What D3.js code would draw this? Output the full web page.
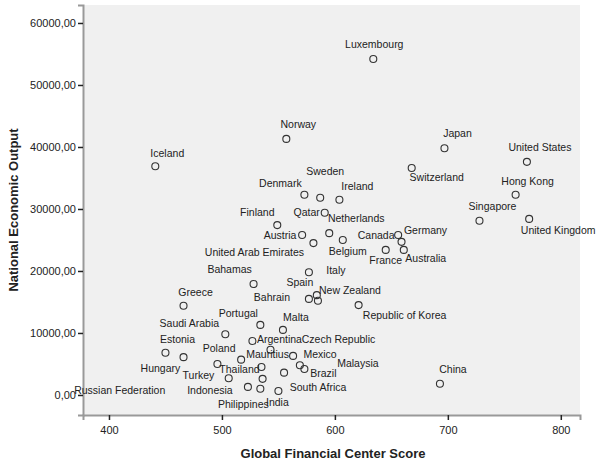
<!DOCTYPE html>
<html>
<head>
<script src="https://cdnjs.cloudflare.com/ajax/libs/d3/7.8.5/d3.min.js"></script>
<style>
  body { margin: 0; background: #fff; }
  text { font-family: "Liberation Sans", Arial, sans-serif; }
</style>
</head>
<body>
<svg id="chart" width="596" height="466"></svg>
<script>
const countries = ["Luxembourg","Norway","Iceland","Japan","United States","Switzerland","Hong Kong","Denmark","Sweden","Ireland","Qatar","Finland","Singapore","United Kingdom","Netherlands","Austria","Canada","Germany","United Arab Emirates","Belgium","Australia","France","Italy","Bahamas","Spain","New Zealand","Bahrain","Republic of Korea","Greece","Portugal","Malta","Saudi Arabia","Argentina","Czech Republic","Hungary","Estonia","Turkey","Poland","Thailand","Russian Federation","Mauritius","Indonesia","Philippines","India","South Africa","Mexico","Malaysia","Brazil","China"];
const gfcScore = [634,557,441,697,770,668,760,573,587,604,591,549,728,772,595,571,656,659,581,607,661,645,577,528,584,585,577,621,466,534,554,503,527,543,450,466,496,517,535,506,536,523,534,550,555,563,569,573,693];
const economicOutput = [54200,41300,36900,39800,37600,36600,32300,32300,31800,31500,29400,27400,28100,28400,26100,25800,25800,24700,24500,25000,23400,23400,19800,17900,16100,15200,15500,14500,14400,11300,10500,9800,8700,7300,6800,6100,5000,5700,4500,2700,2600,1300,1000,650,3600,6300,4800,4200,1800];
const xTicks = [400,500,600,700,800];
const yTicks = [0,10000,20000,30000,40000,50000,60000];

// label placement relative to each point [dx, dy]
const labelOffset = {"Luxembourg":[1,-11],"Norway":[12,-11],"Iceland":[12,-9],"Japan":[13,-11],"United States":[13,-11],"Switzerland":[25,13],"Hong Kong":[12,-10],"Singapore":[13,-11],"United Kingdom":[29,15],"Denmark":[-24,-8],"Sweden":[5,-23],"Ireland":[18,-10],"Qatar":[-18,3],"Finland":[-20,-9],"Netherlands":[27,-11],"Austria":[-22,4],"Canada":[-22,4],"Germany":[24,-8],"United Arab Emirates":[-59,13],"Belgium":[5,15],"France":[0,14],"Australia":[22,12],"Italy":[27,2],"Bahamas":[-24,-11],"Spain":[-17,-9],"New Zealand":[32,-7],"Bahrain":[-37,2],"Republic of Korea":[46,14],"Greece":[12,-10],"Portugal":[-22,-8],"Malta":[13,-9],"Saudi Arabia":[-36,-7],"Argentina":[27,2],"Czech Republic":[68,-7],"Hungary":[-5,19],"Estonia":[-6,-14],"Turkey":[-19,15],"Poland":[-22,-8],"Thailand":[-22,6],"Russian Federation":[-109,16],"Mauritius":[5,-21],"Indonesia":[-38,7],"Philippines":[-17,19],"India":[-1,15],"South Africa":[34,18],"Mexico":[27,2],"Malaysia":[58,2],"Brazil":[19,8],"China":[13,-11]};

const svg = d3.select("#chart");
const padL = 83, padR = 580, padT = 5, padB = 415;

const x = d3.scaleLinear().domain([377, 817]).range([padL, padR]);
const y = d3.scaleLinear().domain([-3230, 62900]).range([padB, padT]);

svg.append("rect").attr("x", padL).attr("y", padT).attr("width", padR - padL).attr("height", padB - padT).attr("fill", "#f0f0f0");

const xAxis = svg.append("g").attr("transform", `translate(0,${padB})`)
  .call(d3.axisBottom(x).tickValues(xTicks).tickSize(5).tickPadding(6));
const yAxis = svg.append("g").attr("transform", `translate(${padL},0)`)
  .call(d3.axisLeft(y).tickValues(yTicks).tickSize(5).tickPadding(2)
    .tickFormat(d => d3.format(".2f")(d).replace(".", ",")));
[xAxis, yAxis].forEach(g => {
  g.select(".domain").attr("stroke", "#999").attr("stroke-width", 2);
  g.selectAll(".tick line").attr("stroke", "#222").attr("stroke-width", 1.5);
  g.selectAll("text").attr("font-size", 11).attr("fill", "#222").style("font-family", "Liberation Sans, Arial, sans-serif");
});

const pts = countries.map((c, i) => ({ name: c, gx: gfcScore[i], ey: economicOutput[i] }));

svg.append("g").selectAll("circle").data(pts).join("circle")
  .attr("cx", d => x(d.gx)).attr("cy", d => y(d.ey)).attr("r", 3.5)
  .attr("fill", "none").attr("stroke", "#333").attr("stroke-width", 1.1);

svg.append("g").selectAll("text").data(pts).join("text")
  .attr("x", d => x(d.gx) + labelOffset[d.name][0])
  .attr("y", d => y(d.ey) + labelOffset[d.name][1])
  .attr("text-anchor", "middle").attr("font-size", 10.5).attr("fill", "#222")
  .text(d => d.name);

svg.append("text").attr("x", 333).attr("y", 458).attr("text-anchor", "middle")
  .attr("font-size", 13).attr("font-weight", "bold").attr("fill", "#222")
  .text("Global Financial Center Score");
svg.append("text").attr("transform", "translate(18,210) rotate(-90)").attr("text-anchor", "middle")
  .attr("font-size", 13).attr("font-weight", "bold").attr("fill", "#222")
  .text("National Economic Output");
</script>
</body>
</html>
